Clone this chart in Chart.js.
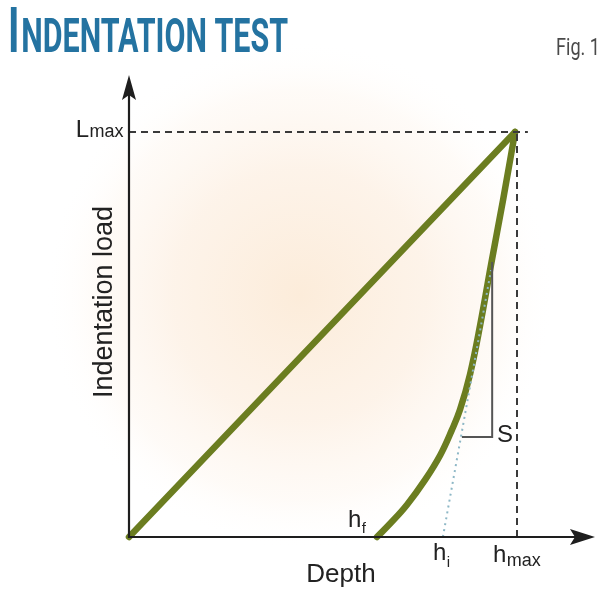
<!DOCTYPE html>
<html>
<head>
<meta charset="utf-8">
<script src="https://cdn.jsdelivr.net/npm/chart.js@4.4.1/dist/chart.umd.min.js"></script>
<style>
  html, body { margin: 0; padding: 0; background: #ffffff; }
  #wrap { width: 609px; height: 590px; position: relative; }
</style>
</head>
<body>
<div id="wrap"><canvas id="c" width="609" height="590"></canvas></div>
<script>
// ---- Data (depth normalised to h_max = 1, load normalised to L_max = 1) ----
const loadingDepth = [0, 0.995];
const loadingLoad = [0, 1.0];

const unloadingDepth = [0.639, 0.675, 0.716, 0.763, 0.802, 0.832, 0.853, 0.879, 0.905, 0.933, 0.964, 0.995];
const unloadingLoad  = [0.000, 0.035, 0.079, 0.141, 0.202, 0.264, 0.314, 0.402, 0.523, 0.672, 0.832, 1.000];

const tangentDepth = [0.809, 0.933];
const tangentLoad  = [0.000, 0.659];

const stiffDepth = [0.858, 0.936, 0.936];
const stiffLoad  = [0.247, 0.247, 0.679];

const lmaxGuideDepth = [0, 1.028];
const lmaxGuideLoad  = [1.0, 1.0];
const hmaxGuideDepth = [1.0, 1.0];
const hmaxGuideLoad  = [0, 1.0];

const axisMax = { x: 1.2, y: 1.2 };
const arrowTip = { x: 1.201, y: 1.141 };

const titleText = ['I', 'NDENTATION TEST'];
const figText = 'Fig. 1';
const yAxisTitle = 'Indentation load';
const xAxisTitle = 'Depth';
const markLabels = [
  { main: 'L', sub: 'max' },
  { main: 'h', sub: 'f' },
  { main: 'h', sub: 'i' },
  { main: 'h', sub: 'max' },
  { main: 'S', sub: '' }
];

function pts(xs, ys) { return xs.map((x, i) => ({ x: x, y: ys[i] })); }

const GREEN = '#6b7d20';
const FONT = '"Liberation Sans", Arial, sans-serif';

const backgroundPlugin = {
  id: 'bg',
  beforeDraw(chart) {
    const ctx = chart.ctx;
    ctx.save();
    ctx.fillStyle = '#ffffff';
    ctx.fillRect(0, 0, chart.width, chart.height);
    const g = ctx.createRadialGradient(300, 295, 0, 300, 295, 255);
    g.addColorStop(0, 'rgba(252,236,218,1)');
    g.addColorStop(0.5, 'rgba(253,242,231,0.9)');
    g.addColorStop(0.8, 'rgba(254,248,242,0.6)');
    g.addColorStop(1, 'rgba(255,255,255,0)');
    ctx.fillStyle = g;
    ctx.fillRect(0, 0, chart.width, chart.height);
    ctx.restore();
  }
};

function drawSub(ctx, main, sub, x, y, size, subSize, drop, align) {
  ctx.font = size + 'px ' + FONT;
  const wm = ctx.measureText(main).width;
  ctx.font = subSize + 'px ' + FONT;
  const ws = sub ? ctx.measureText(sub).width : 0;
  let x0 = x;
  if (align === 'right') x0 = x - wm - ws;
  ctx.textAlign = 'left';
  ctx.textBaseline = 'alphabetic';
  ctx.font = size + 'px ' + FONT;
  ctx.fillText(main, x0, y);
  if (sub) {
    ctx.font = subSize + 'px ' + FONT;
    ctx.fillText(sub, x0 + wm + 0.5, y + drop);
  }
}

const overlayPlugin = {
  id: 'overlay',
  afterDraw(chart) {
    const ctx = chart.ctx;
    const xs = chart.scales.x, ys = chart.scales.y;
    const ox = xs.getPixelForValue(0), oy = ys.getPixelForValue(0);
    const tx = xs.getPixelForValue(arrowTip.x), ty = ys.getPixelForValue(arrowTip.y);
    ctx.save();
    // axes
    ctx.strokeStyle = '#1e1e1e';
    ctx.fillStyle = '#1e1e1e';
    ctx.lineWidth = 2.2;
    ctx.setLineDash([]);
    ctx.beginPath();
    ctx.moveTo(ox, oy + 1); ctx.lineTo(ox, ty + 14);
    ctx.moveTo(ox - 1, oy); ctx.lineTo(tx - 14, oy);
    ctx.stroke();
    // arrow heads
    ctx.beginPath();
    ctx.moveTo(ox, ty); ctx.lineTo(ox - 7, ty + 25); ctx.lineTo(ox, ty + 20); ctx.lineTo(ox + 7, ty + 25); ctx.closePath();
    ctx.fill();
    ctx.beginPath();
    ctx.moveTo(tx, oy); ctx.lineTo(tx - 25, oy - 8); ctx.lineTo(tx - 20, oy); ctx.lineTo(tx - 25, oy + 8); ctx.closePath();
    ctx.fill();

    // Title (small caps, condensed)
    ctx.fillStyle = '#2473a1';
    ctx.font = 'bold 63px Roboto, "Liberation Sans", sans-serif';
    const wI = ctx.measureText(titleText[0]).width;
    ctx.font = 'bold 49px Roboto, "Liberation Sans", sans-serif';
    const wR = ctx.measureText(titleText[1]).width;
    const sx = 280 / (wI + 3 + wR);
    ctx.save();
    ctx.translate(8, 52);
    ctx.scale(sx, 1);
    ctx.textAlign = 'left';
    ctx.textBaseline = 'alphabetic';
    ctx.font = 'bold 63px Roboto, "Liberation Sans", sans-serif';
    ctx.fillText(titleText[0], 0, 0);
    ctx.font = 'bold 49px Roboto, "Liberation Sans", sans-serif';
    ctx.fillText(titleText[1], wI + 3, 0);
    ctx.restore();

    // Fig. 1
    ctx.fillStyle = '#4a4a4a';
    ctx.font = '23px Roboto, "Liberation Sans", sans-serif';
    const wf = ctx.measureText(figText).width;
    ctx.save();
    ctx.translate(556, 55);
    ctx.scale(44 / wf, 1);
    ctx.textAlign = 'left';
    ctx.fillText(figText, 0, 0);
    ctx.restore();

    // axis titles
    ctx.fillStyle = '#222222';
    ctx.font = '26px ' + FONT;
    ctx.textAlign = 'center';
    ctx.textBaseline = 'alphabetic';
    ctx.fillText(xAxisTitle, 341, 582);
    ctx.save();
    ctx.translate(112, 302);
    ctx.rotate(-Math.PI / 2);
    ctx.font = '27px ' + FONT;
    ctx.textAlign = 'center';
    ctx.fillText(yAxisTitle, 0, 0);
    ctx.restore();

    // mark labels
    drawSub(ctx, markLabels[0].main, markLabels[0].sub, 123, 137, 24, 18, 0, 'right');
    drawSub(ctx, markLabels[1].main, markLabels[1].sub, 348, 527, 24, 15, 6, 'left');
    drawSub(ctx, markLabels[2].main, markLabels[2].sub, 433, 560, 24, 15, 7, 'left');
    drawSub(ctx, markLabels[3].main, markLabels[3].sub, 493, 562, 24, 18, 4, 'left');
    drawSub(ctx, markLabels[4].main, markLabels[4].sub, 497, 442, 24, 15, 0, 'left');
    ctx.restore();
  }
};

new Chart(document.getElementById('c'), {
  type: 'scatter',
  data: {
    datasets: [
      { label: 'Lmax guide', data: pts(lmaxGuideDepth, lmaxGuideLoad), showLine: true, borderColor: '#3a3a3a', borderWidth: 2, borderDash: [7, 5], pointRadius: 0, clip: false },
      { label: 'hmax guide', data: pts(hmaxGuideDepth, hmaxGuideLoad), showLine: true, borderColor: '#3a3a3a', borderWidth: 2, borderDash: [7, 5], pointRadius: 0, clip: false },
      { label: 'Stiffness', data: pts(stiffDepth, stiffLoad), showLine: true, borderColor: '#555555', borderWidth: 2, pointRadius: 0, clip: false },
      { label: 'Tangent', data: pts(tangentDepth, tangentLoad), showLine: true, borderColor: '#8db7c6', borderWidth: 2, borderDash: [2, 4], pointRadius: 0, clip: false },
      { label: 'Loading', data: pts(loadingDepth, loadingLoad), showLine: true, borderColor: GREEN, borderWidth: 6.5, pointRadius: 0, clip: false, borderCapStyle: 'round', borderJoinStyle: 'round' },
      { label: 'Unloading', data: pts(unloadingDepth, unloadingLoad), showLine: true, borderColor: GREEN, borderWidth: 6.5, pointRadius: 0, clip: false, tension: 0.4, borderCapStyle: 'round', borderJoinStyle: 'round' }
    ]
  },
  options: {
    responsive: false,
    animation: false,
    devicePixelRatio: 1,
    layout: { padding: { left: 129, right: 609 - 129 - 1.2 * 388, top: 537 - 1.2 * 405, bottom: 53 } },
    plugins: { legend: { display: false }, tooltip: { enabled: false }, title: { display: false } },
    scales: {
      x: { type: 'linear', min: 0, max: axisMax.x, display: false },
      y: { type: 'linear', min: 0, max: axisMax.y, display: false }
    }
  },
  plugins: [backgroundPlugin, overlayPlugin]
});
</script>
</body>
</html>
